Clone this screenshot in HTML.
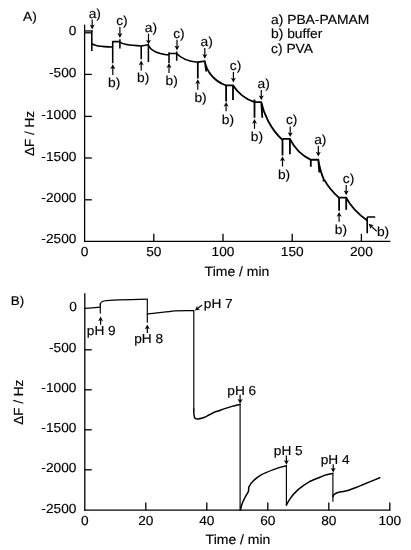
<!DOCTYPE html>
<html><head><meta charset="utf-8"><title>Figure</title>
<style>
html,body{margin:0;padding:0;background:#fff;}
svg{display:block;font-family:"Liberation Sans", Arial, Helvetica, sans-serif;fill:#000;}
svg text{fill:#000;stroke:#000;stroke-width:0.15px;text-rendering:geometricPrecision;}
</style></head>
<body>
<svg width="411" height="550" viewBox="0 0 411 550">
<rect x="0" y="0" width="411" height="550" fill="#fff"/>
<line x1="84.6" y1="24.7" x2="84.6" y2="242.05" stroke="#000" stroke-width="1.3" />
<line x1="83.94999999999999" y1="241.4" x2="390.4" y2="241.4" stroke="#000" stroke-width="1.3" />
<line x1="84.6" y1="32.8" x2="91.8" y2="32.8" stroke="#000" stroke-width="1.3" />
<text transform="translate(76.4,35.0) scale(1.0471,1)" font-size="13.08" text-anchor="end" >0</text>
<line x1="84.6" y1="74.4" x2="91.8" y2="74.4" stroke="#000" stroke-width="1.3" />
<text transform="translate(76.4,77.0) scale(1.0471,1)" font-size="13.08" text-anchor="end" >-500</text>
<line x1="84.6" y1="116.4" x2="91.8" y2="116.4" stroke="#000" stroke-width="1.3" />
<text transform="translate(76.4,119.0) scale(1.0471,1)" font-size="13.08" text-anchor="end" >-1000</text>
<line x1="84.6" y1="158.0" x2="91.8" y2="158.0" stroke="#000" stroke-width="1.3" />
<text transform="translate(76.4,160.6) scale(1.0471,1)" font-size="13.08" text-anchor="end" >-1500</text>
<line x1="84.6" y1="199.8" x2="91.8" y2="199.8" stroke="#000" stroke-width="1.3" />
<text transform="translate(76.4,202.4) scale(1.0471,1)" font-size="13.08" text-anchor="end" >-2000</text>
<text transform="translate(76.4,243.4) scale(1.0471,1)" font-size="13.08" text-anchor="end" >-2500</text>
<text transform="translate(84.6,256.4) scale(1.0471,1)" font-size="13.08" text-anchor="middle" >0</text>
<line x1="153.8" y1="241.4" x2="153.8" y2="233.8" stroke="#000" stroke-width="1.3" />
<text transform="translate(153.8,256.4) scale(1.0471,1)" font-size="13.08" text-anchor="middle" >50</text>
<line x1="223.0" y1="241.4" x2="223.0" y2="233.8" stroke="#000" stroke-width="1.3" />
<text transform="translate(223.0,256.4) scale(1.0471,1)" font-size="13.08" text-anchor="middle" >100</text>
<line x1="292.20000000000005" y1="241.4" x2="292.20000000000005" y2="233.8" stroke="#000" stroke-width="1.3" />
<text transform="translate(292.20000000000005,256.4) scale(1.0471,1)" font-size="13.08" text-anchor="middle" >150</text>
<line x1="361.4" y1="241.4" x2="361.4" y2="233.8" stroke="#000" stroke-width="1.3" />
<text transform="translate(361.4,256.4) scale(1.0471,1)" font-size="13.08" text-anchor="middle" >200</text>
<text transform="translate(237,276.1) scale(1.0471,1)" font-size="13.37" text-anchor="middle" >Time / min</text>
<text transform="translate(33.9,133.4) rotate(-90) scale(1.0256,1)" font-size="13.16" text-anchor="middle" >ΔF / Hz</text>
<text transform="translate(23,20.5) scale(1.0471,1)" font-size="13.18" text-anchor="start" >A)</text>
<text transform="translate(271,23.7) scale(1.0471,1)" font-size="13.23" text-anchor="start" >a) PBA-PAMAM</text>
<text transform="translate(271,38.2) scale(1.0471,1)" font-size="13.23" text-anchor="start" >b) buffer</text>
<text transform="translate(271,52.6) scale(1.0471,1)" font-size="13.23" text-anchor="start" >c) PVA</text>
<path transform="translate(0,0)" d="M91.8,30.4 V51 M91.8,43.3 C93.5,45.8 100,46.8 112.7,47.1
M112.7,63.2 V41.6 H119.9 M119.9,39.3 V48.6 M119.9,41.8 C122,44.4 130,45.5 141.2,45.9
M141.2,59.3 V45.9 L148.4,44.7 V62 M148.4,44.9 C150.5,50.5 158,53.8 169,54.9
M169,62.9 V52.2 M169,53.5 H176.7 M176.7,51.4 V60.7 M176.7,53.5 C180.5,57.8 188,61.3 197.8,62.2
" fill="none" stroke="#000" stroke-width="1.55" stroke-linejoin="round"/>
<path transform="translate(0,0)" d="M197.8,78.6 V62.2 L204.8,61.2 L206.2,71.5 M204.8,61.2 C206,69 212,80.5 226.1,85.5
" fill="none" stroke="#000" stroke-width="1.75" stroke-linejoin="round"/>
<path transform="translate(0,0.7)" d="M226.1,100.8 V84.6 H233 V99.3 M233,84.6 C237,91 245,98.5 254.5,101.4
M254.5,98.8 V117.1 M254.5,101.4 H261.3 L262.3,117.1 M261.3,101.4 C263.5,112 270,128 282.5,139.2
" fill="none" stroke="#000" stroke-width="1.8" stroke-linejoin="round"/>
<path transform="translate(0,0.25)" d="M282.5,138.4 V155.3 M282.5,138.7 H289.9 V154.1 M289.9,138.7 C293,145 300,154.5 310.8,159.6
M310.8,158.9 V166.6 M310.8,159.5 H318.3 L319.3,172.2 M318.3,159.5 C319.5,167 321.5,174 323.9,179.3 l-0.5,1.1 l1.3,-0.3 C328,186.5 333,192 339.1,197.7
" fill="none" stroke="#000" stroke-width="1.8" stroke-linejoin="round"/>
<path transform="translate(0,0.2)" d="M339.1,196.9 V210.5 M339.1,197.4 H346.2 V209.6 M346.2,197.5 C349,203 356,212.5 367.2,220.2
" fill="none" stroke="#000" stroke-width="1.8" stroke-linejoin="round"/>
<path transform="translate(0,-0.3)" d="M367.2,217.3 V233.5 M367.2,217.3 H375.2" fill="none" stroke="#000" stroke-width="1.6" stroke-linejoin="round"/>
<line x1="84.6" y1="30.95" x2="92.6" y2="30.95" stroke="#000" stroke-width="1.3" />
<line x1="92.20" y1="19.50" x2="92.20" y2="26.04" stroke="#000" stroke-width="1.2"/>
<polygon points="92.20,29.40 89.70,24.60 92.20,25.80 94.70,24.60" fill="#000"/>
<text transform="translate(88.7,17.8) scale(1.0471,1)" font-size="13.18" text-anchor="start" >a)</text>
<line x1="148.50" y1="33.70" x2="148.50" y2="41.14" stroke="#000" stroke-width="1.2"/>
<polygon points="148.50,44.50 146.00,39.70 148.50,40.90 151.00,39.70" fill="#000"/>
<text transform="translate(144.8,32.0) scale(1.0471,1)" font-size="13.18" text-anchor="start" >a)</text>
<line x1="204.80" y1="48.10" x2="204.80" y2="55.44" stroke="#000" stroke-width="1.2"/>
<polygon points="204.80,58.80 202.30,54.00 204.80,55.20 207.30,54.00" fill="#000"/>
<text transform="translate(200.6,46.34) scale(1.0471,1)" font-size="13.18" text-anchor="start" >a)</text>
<line x1="261.30" y1="90.00" x2="261.30" y2="96.84" stroke="#000" stroke-width="1.2"/>
<polygon points="261.30,100.20 258.80,95.40 261.30,96.60 263.80,95.40" fill="#000"/>
<text transform="translate(257.6,88.24) scale(1.0471,1)" font-size="13.18" text-anchor="start" >a)</text>
<line x1="318.30" y1="146.10" x2="318.30" y2="153.14" stroke="#000" stroke-width="1.2"/>
<polygon points="318.30,156.50 315.80,151.70 318.30,152.90 320.80,151.70" fill="#000"/>
<text transform="translate(314.2,143.94) scale(1.0471,1)" font-size="13.18" text-anchor="start" >a)</text>
<line x1="119.90" y1="27.10" x2="119.90" y2="34.54" stroke="#000" stroke-width="1.2"/>
<polygon points="119.90,37.90 117.40,33.10 119.90,34.30 122.40,33.10" fill="#000"/>
<text transform="translate(116.2,25.1) scale(1.0471,1)" font-size="13.18" text-anchor="start" >c)</text>
<line x1="177.00" y1="39.70" x2="177.00" y2="47.04" stroke="#000" stroke-width="1.2"/>
<polygon points="177.00,50.40 174.50,45.60 177.00,46.80 179.50,45.60" fill="#000"/>
<text transform="translate(173.2,38.0) scale(1.0471,1)" font-size="13.18" text-anchor="start" >c)</text>
<line x1="233.40" y1="71.90" x2="233.40" y2="79.24" stroke="#000" stroke-width="1.2"/>
<polygon points="233.40,82.60 230.90,77.80 233.40,79.00 235.90,77.80" fill="#000"/>
<text transform="translate(229.8,70.16999999999999) scale(1.0471,1)" font-size="13.18" text-anchor="start" >c)</text>
<line x1="290.20" y1="126.40" x2="290.20" y2="133.74" stroke="#000" stroke-width="1.2"/>
<polygon points="290.20,137.10 287.70,132.30 290.20,133.50 292.70,132.30" fill="#000"/>
<text transform="translate(285.9,123.77) scale(1.0471,1)" font-size="13.18" text-anchor="start" >c)</text>
<line x1="346.20" y1="185.00" x2="346.20" y2="191.84" stroke="#000" stroke-width="1.2"/>
<polygon points="346.20,195.20 343.70,190.40 346.20,191.60 348.70,190.40" fill="#000"/>
<text transform="translate(342.8,182.97) scale(1.0471,1)" font-size="13.18" text-anchor="start" >c)</text>
<line x1="112.80" y1="75.00" x2="112.80" y2="67.66" stroke="#000" stroke-width="1.2"/>
<polygon points="112.80,64.30 115.30,69.10 112.80,67.90 110.30,69.10" fill="#000"/>
<text transform="translate(108,86.9) scale(1.0471,1)" font-size="13.18" text-anchor="start" >b)</text>
<line x1="141.20" y1="70.60" x2="141.20" y2="63.86" stroke="#000" stroke-width="1.2"/>
<polygon points="141.20,60.50 143.70,65.30 141.20,64.10 138.70,65.30" fill="#000"/>
<text transform="translate(137,81.8) scale(1.0471,1)" font-size="13.18" text-anchor="start" >b)</text>
<line x1="169.00" y1="72.90" x2="169.00" y2="66.46" stroke="#000" stroke-width="1.2"/>
<polygon points="169.00,63.10 171.50,67.90 169.00,66.70 166.50,67.90" fill="#000"/>
<text transform="translate(165.5,84.5) scale(1.0471,1)" font-size="13.18" text-anchor="start" >b)</text>
<line x1="197.80" y1="89.70" x2="197.80" y2="82.56" stroke="#000" stroke-width="1.2"/>
<polygon points="197.80,79.20 200.30,84.00 197.80,82.80 195.30,84.00" fill="#000"/>
<text transform="translate(194.4,101.94999999999999) scale(1.0471,1)" font-size="13.18" text-anchor="start" >b)</text>
<line x1="226.10" y1="111.20" x2="226.10" y2="105.36" stroke="#000" stroke-width="1.2"/>
<polygon points="226.10,102.00 228.60,106.80 226.10,105.60 223.60,106.80" fill="#000"/>
<text transform="translate(221.8,123.55) scale(1.0471,1)" font-size="13.18" text-anchor="start" >b)</text>
<line x1="254.50" y1="128.80" x2="254.50" y2="122.36" stroke="#000" stroke-width="1.2"/>
<polygon points="254.50,119.00 257.00,123.80 254.50,122.60 252.00,123.80" fill="#000"/>
<text transform="translate(250.8,140.54999999999998) scale(1.0471,1)" font-size="13.18" text-anchor="start" >b)</text>
<line x1="282.50" y1="166.50" x2="282.50" y2="159.66" stroke="#000" stroke-width="1.2"/>
<polygon points="282.50,156.30 285.00,161.10 282.50,159.90 280.00,161.10" fill="#000"/>
<text transform="translate(277.9,179.2) scale(1.0471,1)" font-size="13.18" text-anchor="start" >b)</text>
<line x1="339.10" y1="221.80" x2="339.10" y2="215.26" stroke="#000" stroke-width="1.2"/>
<polygon points="339.10,211.90 341.60,216.70 339.10,215.50 336.60,216.70" fill="#000"/>
<text transform="translate(334.8,234.4) scale(1.0471,1)" font-size="13.18" text-anchor="start" >b)</text>
<line x1="376.70" y1="231.20" x2="371.12" y2="226.12" stroke="#000" stroke-width="1.2"/>
<polygon points="368.63,223.86 373.86,225.24 371.29,226.29 370.50,228.94" fill="#000"/>
<text transform="translate(376.9,236.4) scale(1.0471,1)" font-size="13.18" text-anchor="start" >b)</text>
<line x1="84.8" y1="293.3" x2="84.8" y2="510.84999999999997" stroke="#000" stroke-width="1.3" />
<line x1="84.14999999999999" y1="510.2" x2="390.34999999999997" y2="510.2" stroke="#000" stroke-width="1.3" />
<text transform="translate(76.80000000000001,311.00000000000006) scale(1.0471,1)" font-size="13.08" text-anchor="end" >0</text>
<line x1="84.8" y1="349.8" x2="91.8" y2="349.8" stroke="#000" stroke-width="1.3" />
<text transform="translate(76.4,352.40000000000003) scale(1.0471,1)" font-size="13.08" text-anchor="end" >-500</text>
<line x1="84.8" y1="389.8" x2="91.8" y2="389.8" stroke="#000" stroke-width="1.3" />
<text transform="translate(76.4,392.40000000000003) scale(1.0471,1)" font-size="13.08" text-anchor="end" >-1000</text>
<line x1="84.8" y1="429.8" x2="91.8" y2="429.8" stroke="#000" stroke-width="1.3" />
<text transform="translate(76.4,432.40000000000003) scale(1.0471,1)" font-size="13.08" text-anchor="end" >-1500</text>
<line x1="84.8" y1="469.8" x2="91.8" y2="469.8" stroke="#000" stroke-width="1.3" />
<text transform="translate(76.4,472.40000000000003) scale(1.0471,1)" font-size="13.08" text-anchor="end" >-2000</text>
<text transform="translate(76.4,513.2) scale(1.0471,1)" font-size="13.08" text-anchor="end" >-2500</text>
<text transform="translate(84.8,524.5) scale(1.0471,1)" font-size="13.08" text-anchor="middle" >0</text>
<line x1="145.8" y1="510.2" x2="145.8" y2="502.6" stroke="#000" stroke-width="1.3" />
<text transform="translate(145.8,524.5) scale(1.0471,1)" font-size="13.08" text-anchor="middle" >20</text>
<line x1="206.8" y1="510.2" x2="206.8" y2="502.6" stroke="#000" stroke-width="1.3" />
<text transform="translate(206.8,524.5) scale(1.0471,1)" font-size="13.08" text-anchor="middle" >40</text>
<line x1="267.8" y1="510.2" x2="267.8" y2="502.6" stroke="#000" stroke-width="1.3" />
<text transform="translate(267.8,524.5) scale(1.0471,1)" font-size="13.08" text-anchor="middle" >60</text>
<line x1="328.8" y1="510.2" x2="328.8" y2="502.6" stroke="#000" stroke-width="1.3" />
<text transform="translate(328.8,524.5) scale(1.0471,1)" font-size="13.08" text-anchor="middle" >80</text>
<line x1="389.8" y1="510.2" x2="389.8" y2="502.6" stroke="#000" stroke-width="1.3" />
<text transform="translate(389.8,524.5) scale(1.0471,1)" font-size="13.08" text-anchor="middle" >100</text>
<text transform="translate(238,543.7) scale(1.0471,1)" font-size="13.37" text-anchor="middle" >Time / min</text>
<text transform="translate(23.0,402.3) rotate(-90) scale(1.0256,1)" font-size="13.16" text-anchor="middle" >ΔF / Hz</text>
<text transform="translate(10.7,305.3) scale(1.0471,1)" font-size="12.80" text-anchor="start" >B)</text>
<path d="M100.3,313.4 V303 M147.3,299.2 V322.7 M193.8,310.7 V409.5 M240.1,404.3 V510.2 M286.4,465.7 V505.2 M332.9,473.3 V501.8" fill="none" stroke="#000" stroke-width="1.15"/>
<path d="M84.8,308.4 C90,308.2 95,307.8 100.3,307.2 M100.3,305 C100.3,302.3 101.6,301.4 104,301 C110,300.2 128,299.6 147.3,299.2
M147.3,314.2 C156,312.8 165,312.3 175,310.9 C181,310.6 187,310.7 193.8,310.7
" fill="none" stroke="#000" stroke-width="1.25" stroke-linejoin="round" stroke-linecap="round"/>
<path d="M193.80,409.00 C193.82,409.83 193.77,412.57 193.90,414.00 C194.03,415.43 194.20,416.78 194.60,417.60 C195.00,418.42 195.65,418.68 196.30,418.90 C196.95,419.12 197.63,419.00 198.50,418.90 C199.37,418.80 200.50,418.57 201.50,418.30 C202.50,418.03 203.25,417.85 204.50,417.30 C205.75,416.75 207.38,415.83 209.00,415.00 C210.62,414.17 212.53,413.02 214.20,412.30 C215.87,411.58 217.38,411.27 219.00,410.70 C220.62,410.13 221.73,409.62 223.90,408.90 C226.07,408.18 229.30,407.17 232.00,406.40 C234.70,405.63 238.75,404.65 240.10,404.30 
M240.5,510 C241,506.5 241.8,504.5 242.7,502.3 C243.7,500 244.6,498 245.6,496.4 C246.6,494.5 247.6,493 248.5,491.4 L248.8,487 C250,484.6 251.5,482.6 253.4,480.8 C256,478.3 258.5,476.5 261.1,474.9 C265,472.8 269,471.3 272.8,469.9 C277,468 282,466.6 286.4,465.7
M286.4,505.2 C287.5,503 288.8,500.6 290.3,498.4 C292.5,495 295.5,492 298.1,489.6 C302,486.2 306,483.6 310,481.3 C314,479.9 319,477.6 324.3,475.4 C327,474.5 330,473.9 332.9,473.3
M332.90,496.60 C333.02,496.32 333.15,495.42 333.60,494.90 C334.05,494.38 334.72,493.93 335.60,493.50 C336.48,493.07 337.67,492.63 338.90,492.30 C340.13,491.97 341.37,491.85 343.00,491.50 C344.63,491.15 346.53,490.87 348.70,490.20 C350.87,489.53 353.57,488.45 356.00,487.50 C358.43,486.55 360.72,485.57 363.30,484.50 C365.88,483.43 368.75,482.23 371.50,481.10 C374.25,479.97 378.42,478.27 379.80,477.70 " fill="none" stroke="#000" stroke-width="1.5" stroke-linejoin="round" stroke-linecap="round"/>
<line x1="100.60" y1="324.80" x2="100.60" y2="319.86" stroke="#000" stroke-width="1.2"/>
<polygon points="100.60,316.50 103.10,321.30 100.60,320.10 98.10,321.30" fill="#000"/>
<text transform="translate(86.8,335.3) scale(1.0471,1)" font-size="13.08" text-anchor="start" >pH 9</text>
<line x1="147.30" y1="333.00" x2="147.30" y2="327.86" stroke="#000" stroke-width="1.2"/>
<polygon points="147.30,324.50 149.80,329.30 147.30,328.10 144.80,329.30" fill="#000"/>
<text transform="translate(134.2,342.9) scale(1.0471,1)" font-size="13.08" text-anchor="start" >pH 8</text>
<line x1="202.20" y1="304.90" x2="197.55" y2="308.54" stroke="#000" stroke-width="1.2"/>
<polygon points="194.91,310.61 197.15,305.68 197.74,308.39 200.23,309.62" fill="#000"/>
<text transform="translate(203.8,308.1) scale(1.0471,1)" font-size="13.08" text-anchor="start" >pH 7</text>
<line x1="240.10" y1="394.60" x2="240.10" y2="400.34" stroke="#000" stroke-width="1.2"/>
<polygon points="240.10,403.70 237.60,398.90 240.10,400.10 242.60,398.90" fill="#000"/>
<text transform="translate(227.3,395.3) scale(1.0471,1)" font-size="13.08" text-anchor="start" >pH 6</text>
<line x1="286.40" y1="455.60" x2="286.40" y2="461.44" stroke="#000" stroke-width="1.2"/>
<polygon points="286.40,464.80 283.90,460.00 286.40,461.20 288.90,460.00" fill="#000"/>
<text transform="translate(273.8,455.3) scale(1.0471,1)" font-size="13.08" text-anchor="start" >pH 5</text>
<line x1="333.20" y1="464.30" x2="333.20" y2="469.24" stroke="#000" stroke-width="1.2"/>
<polygon points="333.20,472.60 330.70,467.80 333.20,469.00 335.70,467.80" fill="#000"/>
<text transform="translate(320.7,464.4) scale(1.0471,1)" font-size="13.08" text-anchor="start" >pH 4</text>
</svg>
</body></html>
